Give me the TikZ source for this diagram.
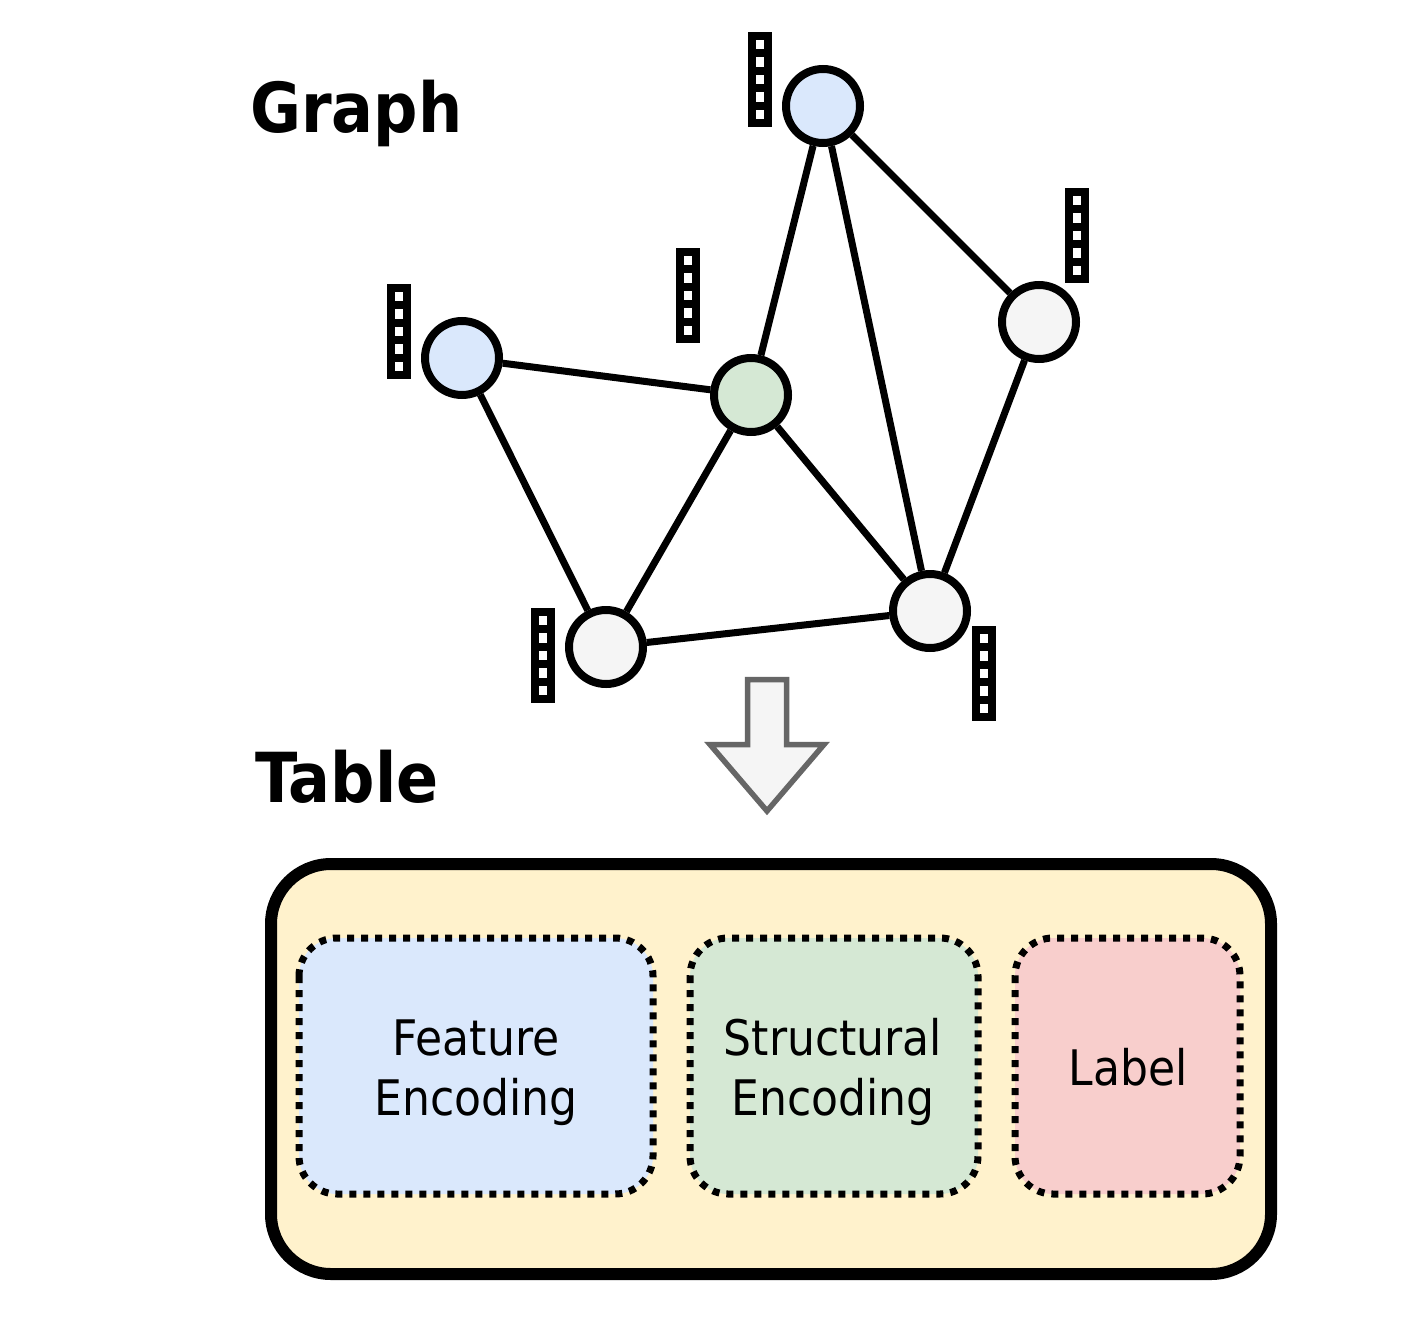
\documentclass[tikz,border=0pt]{standalone}
\usepackage{fontspec}
\newfontfamily\cf{DejaVu Sans Condensed}[BoldFont={DejaVu Sans Condensed Bold}]
\usetikzlibrary{backgrounds}
\definecolor{cblue}{HTML}{DAE8FC}
\definecolor{cgreen}{HTML}{D5E8D4}
\definecolor{cgrey}{HTML}{F5F5F5}
\definecolor{cyellow}{HTML}{FFF2CC}
\definecolor{cred}{HTML}{F8CECC}
\definecolor{cdark}{HTML}{666666}
\tikzset{
  gnode/.style={circle, draw=black, line width=8pt, minimum size=74pt, inner sep=0pt},
  edge/.style={draw=black, line width=7pt},
  vecpic/.pic={
    \foreach \i in {0,...,4}
      \draw[line width=8pt, fill=white] (4, 4+\i*17.4) rectangle ++(16,17.4);
  },
  encbox/.style={draw=black, line width=7pt, dash pattern=on 7pt off 7pt, rounded corners=38pt},
  title/.style={font=\cf\bfseries\fontsize{69}{80}\selectfont, inner sep=0pt},
  body/.style={font=\cf\fontsize{49}{60}\selectfont, inner sep=0pt},
}
\begin{document}
\begin{tikzpicture}[x=1pt,y=-1pt]
\useasboundingbox (0,0) rectangle (1412,1340);

% graph nodes
\node[gnode, fill=cblue]  (n1) at (823,106) {};
\node[gnode, fill=cblue]  (n2) at (462,358) {};
\node[gnode, fill=cgreen] (n3) at (751,395) {};
\node[gnode, fill=cgrey]  (n4) at (1039,322) {};
\node[gnode, fill=cgrey]  (n5) at (606,647) {};
\node[gnode, fill=cgrey]  (n6) at (930,611) {};

\begin{scope}[on background layer]
\fill[white] (0,0) rectangle (1412,1340);
\draw[edge] (n1) -- (n3);
\draw[edge] (n1) -- (n6);
\draw[edge] (n1) -- (n4);
\draw[edge] (n2) -- (n3);
\draw[edge] (n2) -- (n5);
\draw[edge] (n3) -- (n5);
\draw[edge] (n3) -- (n6);
\draw[edge] (n4) -- (n6);
\draw[edge] (n5) -- (n6);
\end{scope}

% feature vectors
\pic at (748,32) {vecpic};
\pic at (387,284) {vecpic};
\pic at (676,248) {vecpic};
\pic at (1065,188) {vecpic};
\pic at (531,608) {vecpic};
\pic at (972,626) {vecpic};

% titles
\node[title, anchor=base west] (tg) at (250,133) {Graph};
\node[title, anchor=base west] (tt) at (255,802) {Table};

% arrow
\draw[draw=cdark, fill=cgrey, line width=5.5pt, line join=miter]
  (747.5,679.5) -- (786.5,679.5) -- (786.5,744.5) -- (824,744.5) -- (767,811)
  -- (710,744.5) -- (747.5,744.5) -- cycle;

% table
\draw[line width=12pt, fill=cyellow, rounded corners=60pt] (271,864) rectangle (1271,1274);
\draw[encbox, fill=cblue]  (299,938) rectangle (653,1194);
\draw[encbox, fill=cgreen] (690,938) rectangle (978,1194);
\draw[encbox, fill=cred]   (1015,938) rectangle (1240,1194);

\node[body, anchor=base] (f1) at (476,1055) {Feature};
\node[body, anchor=base] (f2) at (476,1115) {Encoding};
\node[body, anchor=base] (s1) at (833,1055) {Structural};
\node[body, anchor=base] (s2) at (833,1115) {Encoding};
\node[body, anchor=base] (l1) at (1128,1085) {Label};
\end{tikzpicture}
\end{document}
